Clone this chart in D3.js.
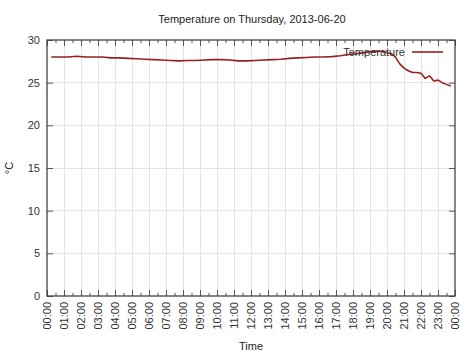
<!DOCTYPE html>
<html><head><meta charset="utf-8">
<script src="https://cdn.jsdelivr.net/npm/d3@7"></script>
<style>body{margin:0;background:#fff}svg{display:block}text{font-family:"Liberation Sans",Arial,sans-serif}</style>
</head><body>
<svg id="c" width="474" height="355"></svg>
<script>
const times = ["00:15","00:45","01:15","01:45","02:15","02:45","03:15","03:45","04:15","04:45","05:15","05:45","06:15","06:45","07:15","07:45","08:15","08:45","09:15","09:45","10:15","10:45","11:15","11:45","12:15","12:45","13:15","13:45","14:15","14:45","15:15","15:45","16:15","16:45","17:15","17:45","18:15","18:45","19:15","19:45","20:15","20:30","20:45","21:00","21:15","21:30","21:45","22:00","22:15","22:30","22:45","23:00","23:15","23:30","23:45"];
const temps = [28.0,28.0,28.0,28.1,28.0,28.0,28.0,27.9,27.9,27.85,27.8,27.75,27.7,27.65,27.6,27.55,27.6,27.6,27.65,27.7,27.7,27.65,27.55,27.55,27.6,27.65,27.7,27.75,27.85,27.9,27.95,28.0,28.0,28.05,28.15,28.3,28.4,28.55,28.7,28.65,28.4,28.0,27.2,26.7,26.4,26.2,26.2,26.1,25.5,25.8,25.2,25.3,25.0,24.8,24.6];
const yTicks = [0,5,10,15,20,25,30];
const title = "Temperature on Thursday, 2013-06-20";
const seriesName = "Temperature";

const parse = d3.timeParse("%Y-%m-%d %H:%M");
const data = times.map((t,i)=>({t:parse("2013-06-20 "+t), v:temps[i]}));
const t0 = parse("2013-06-20 00:00"), t1 = parse("2013-06-21 00:00");

const L=47,R=455,T=40,B=296;
const FS="11px";
const x = d3.scaleTime().domain([t0,t1]).range([L,R]);
const y = d3.scaleLinear().domain([0,30]).range([B,T]);
const svg = d3.select("#c");

const hours = d3.timeHour.every(1).range(t0, d3.timeMinute.offset(t1,1));
const halves = d3.timeMinute.every(30).range(t0, d3.timeMinute.offset(t1,1)).filter(d=>d.getMinutes()===30);

// grid
svg.append("g").selectAll("line").data(hours.slice(1,-1)).join("line")
  .attr("x1",d=>x(d)).attr("x2",d=>x(d)).attr("y1",T).attr("y2",B)
  .attr("stroke","#e4e4e4").attr("stroke-width",1).attr("shape-rendering","crispEdges");
svg.append("g").selectAll("line").data(yTicks.slice(1,-1)).join("line")
  .attr("x1",L).attr("x2",R).attr("y1",d=>y(d)).attr("y2",d=>y(d))
  .attr("stroke","#e4e4e4").attr("stroke-width",1).attr("shape-rendering","crispEdges");

// axes with inward ticks
const fmt = d3.timeFormat("%H:%M");
const xb = svg.append("g").attr("transform",`translate(0,${B})`)
  .call(d3.axisBottom(x).tickValues(hours).tickFormat(fmt).tickSizeInner(-6).tickSizeOuter(0));
xb.select(".domain").remove();
xb.selectAll("text").attr("transform","rotate(-90)").attr("text-anchor","end")
  .attr("x",-6).attr("y",0).attr("dy","0.35em").style("font-size",FS).attr("fill","#333");
svg.append("g").attr("transform",`translate(0,${B})`)
  .call(d3.axisBottom(x).tickValues(halves).tickFormat("").tickSizeInner(-3).tickSizeOuter(0))
  .select(".domain").remove();
// top mirror
const xt = svg.append("g").attr("transform",`translate(0,${T})`)
  .call(d3.axisTop(x).tickValues(hours).tickFormat("").tickSizeInner(-6).tickSizeOuter(0));
xt.select(".domain").remove();
svg.append("g").attr("transform",`translate(0,${T})`)
  .call(d3.axisTop(x).tickValues(halves).tickFormat("").tickSizeInner(-3).tickSizeOuter(0))
  .select(".domain").remove();

const yl = svg.append("g").attr("transform",`translate(${L},0)`)
  .call(d3.axisLeft(y).tickValues(yTicks).tickSizeInner(-6).tickSizeOuter(0));
yl.select(".domain").remove();
yl.selectAll("text").attr("x",-7).style("font-size",FS).attr("fill","#333");
const yr = svg.append("g").attr("transform",`translate(${R},0)`)
  .call(d3.axisRight(y).tickValues(yTicks).tickFormat("").tickSizeInner(-6).tickSizeOuter(0));
yr.select(".domain").remove();
svg.selectAll(".tick line").attr("stroke","#555");

// border
svg.append("rect").attr("x",L).attr("y",T).attr("width",R-L).attr("height",B-T)
  .attr("fill","none").attr("stroke","#444").attr("stroke-width",1.3);

// line
svg.append("path").datum(data)
  .attr("d",d3.line().x(d=>x(d.t)).y(d=>y(d.v)))
  .attr("fill","none").attr("stroke","#962020").attr("stroke-width",1.6).attr("stroke-linejoin","round");

// legend
svg.append("text").attr("x",405).attr("y",56).attr("text-anchor","end")
  .style("font-size",FS).attr("fill","#333").text(seriesName);
svg.append("line").attr("x1",412).attr("x2",443).attr("y1",52).attr("y2",52)
  .attr("stroke","#962020").attr("stroke-width",1.6);

// titles
svg.append("text").attr("x",252).attr("y",23).attr("text-anchor","middle")
  .style("font-size",FS).attr("fill","#222").text(title);
svg.append("text").attr("x",251).attr("y",350).attr("text-anchor","middle")
  .style("font-size",FS).attr("fill","#222").text("Time");
svg.append("text").attr("transform","translate(13,168) rotate(-90)").attr("text-anchor","middle")
  .style("font-size",FS).attr("fill","#222").text("°C");
</script>
</body></html>
